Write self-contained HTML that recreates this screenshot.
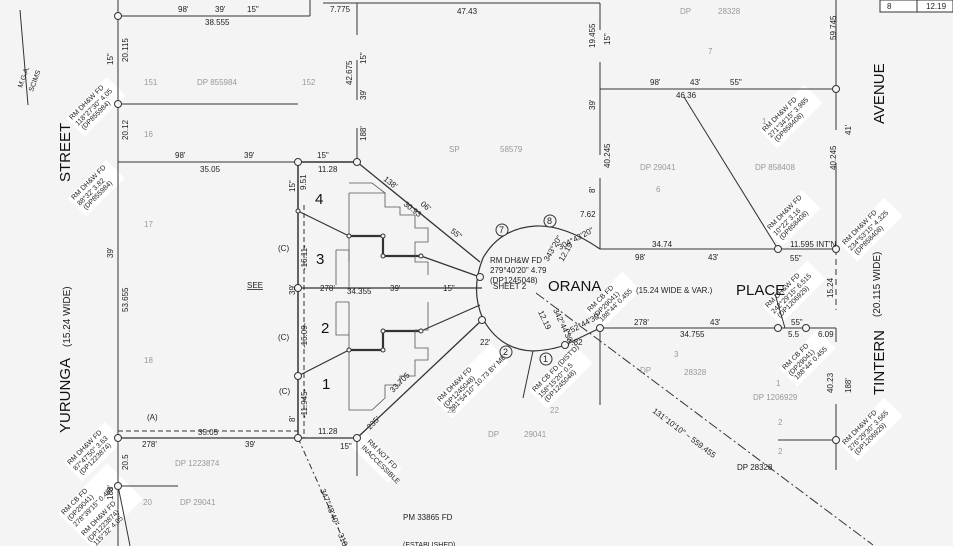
<!DOCTYPE html>
<html><head><meta charset="utf-8"><style>
html,body{margin:0;padding:0;background:#f4f4f4;}
svg{display:block;font-family:"Liberation Sans",sans-serif;}
.t{font-size:8px;fill:#222;}
.g{font-size:8px;fill:#999;}
</style></head><body>
<svg width="953" height="546" viewBox="0 0 953 546" xmlns="http://www.w3.org/2000/svg">
<rect width="953" height="546" fill="#f4f4f4"/>
<g fill="#fff">
<rect transform="translate(66,118) rotate(-45)" width="58" height="26"/>
<rect transform="translate(68,198) rotate(-45)" width="54" height="26"/>
<rect transform="translate(64,463) rotate(-45)" width="58" height="26"/>
<rect transform="translate(58,513) rotate(-45)" width="70" height="50"/>
<rect transform="translate(759,130) rotate(-45)" width="64" height="26"/>
<rect transform="translate(764,228) rotate(-45)" width="54" height="26"/>
<rect transform="translate(839,243) rotate(-45)" width="64" height="26"/>
<rect transform="translate(762,306) rotate(-45)" width="64" height="26"/>
<rect transform="translate(779,368) rotate(-45)" width="54" height="26"/>
<rect transform="translate(839,443) rotate(-45)" width="64" height="26"/>
<rect transform="translate(584,310) rotate(-45)" width="54" height="26"/>
<rect transform="translate(529,390) rotate(-45)" width="64" height="26"/>
<rect transform="translate(434,400) rotate(-45)" width="80" height="26"/>
<rect transform="translate(365,432) rotate(45)" width="52" height="20"/>
</g>
<g stroke="#333" stroke-width="1" fill="none">
<rect x="880" y="0" width="73" height="12" fill="#fff"/>
<line x1="917" y1="0" x2="917" y2="12"/>
<line x1="118" y1="0" x2="118" y2="546"/>
<line x1="118" y1="16" x2="310" y2="16"/>
<line x1="310" y1="16" x2="310" y2="0"/>
<line x1="323" y1="3" x2="600" y2="3"/>
<line x1="600" y1="3" x2="600" y2="30"/>
<line x1="357" y1="3" x2="357" y2="35"/><line x1="357" y1="60" x2="357" y2="100"/><line x1="357" y1="128" x2="357" y2="162"/>
<line x1="118" y1="104" x2="298" y2="104"/>
<line x1="118" y1="162" x2="357" y2="162"/>
<line x1="298" y1="162" x2="298" y2="438" stroke-width="1.5"/>
<line x1="298" y1="162" x2="357" y2="162" stroke-width="1.5"/>
<line x1="357" y1="162" x2="480" y2="262" stroke-width="1.3"/>
<path d="M600 249 Q565 225 536 226 Q500 228 483 258 Q470 290 483 319 Q500 350 533 351 Q552 350 565 345 L600 328" stroke-width="1.2"/>
<line x1="600" y1="249" x2="836" y2="249"/>
<line x1="600" y1="62" x2="600" y2="155"/><line x1="600" y1="178" x2="600" y2="249"/>
<line x1="600" y1="89" x2="836" y2="89"/>
<line x1="684" y1="97" x2="778" y2="249"/>
<line x1="836" y1="0" x2="836" y2="130"/><line x1="836" y1="163" x2="836" y2="249"/>
<line x1="836" y1="249" x2="836" y2="310" stroke-dasharray="6 4"/>
<line x1="836" y1="328" x2="836" y2="342"/>
<line x1="836" y1="404" x2="836" y2="470"/>
<line x1="600" y1="328" x2="836" y2="328"/>
<line x1="600" y1="328" x2="600" y2="405"/>
<line x1="778" y1="440" x2="836" y2="440"/>
<line x1="536" y1="293" x2="873" y2="545" stroke-dasharray="10 3 2 3"/>
<line x1="298" y1="288" x2="482" y2="288" stroke-width="1.3"/>
<line x1="118" y1="438" x2="357" y2="438" stroke-width="1.2"/>
<line x1="118" y1="431" x2="298" y2="431" stroke-dasharray="5 3"/>
<line x1="304" y1="205" x2="304" y2="438" stroke-dasharray="5 3"/>
<line x1="357" y1="438" x2="482" y2="320" stroke-width="1.3"/>
<line x1="357" y1="438" x2="357" y2="476"/>
<line x1="118" y1="486" x2="178" y2="486"/>
<line x1="298" y1="438" x2="346" y2="546" stroke-dasharray="6 3 2 3"/>
<line x1="298" y1="211" x2="349" y2="236" stroke-width="1.2"/>
<polyline points="349,236 383,236 383,256 421,256" stroke-width="2.2"/>
<line x1="421" y1="256" x2="480" y2="277" stroke-width="1.2"/>
<line x1="298" y1="376" x2="349" y2="350" stroke-width="1.2"/>
<polyline points="349,350 383,350 383,331 421,331" stroke-width="2.2"/>
<line x1="421" y1="331" x2="480" y2="305" stroke-width="1.2"/>
<path d="M349 193 L349 262 M349 183 L372 183 L385 193 L349 193 M385 193 L385 207 L400 207 L400 215 L415 215 L415 228 L428 228 L428 242 L415 242 L415 262 L428 262 L428 275" stroke="#555" stroke-width="0.8"/>
<path d="M349 302 L349 410 L372 410 L385 398 L385 385 L400 385 L400 376 L415 376 L415 360 L428 360 L428 348 L415 348 L415 330 L428 330 L428 302 M336 302 L349 302 M336 302 L336 335 L349 335 M336 250 L349 250 L349 290 M336 250 L336 285" stroke="#555" stroke-width="0.8"/>
<line x1="20" y1="10" x2="28" y2="105"/>
<line x1="775" y1="294" x2="785" y2="328"/>
<line x1="523" y1="398" x2="533" y2="351"/>
<path d="M118 486 Q125 520 130 546"/>
</g>
<g fill="#f4f4f4" stroke="#333" stroke-width="1">
<circle cx="118" cy="16" r="3.5"/><circle cx="118" cy="104" r="3.5"/><circle cx="298" cy="162" r="3.5"/><circle cx="357" cy="162" r="3.5"/>
<circle cx="836" cy="89" r="3.5"/><circle cx="778" cy="249" r="3.5"/><circle cx="836" cy="249" r="3.5"/>
<circle cx="600" cy="328" r="3.5"/><circle cx="778" cy="328" r="3.5"/><circle cx="806" cy="328" r="3.5"/><circle cx="836" cy="440" r="3.5"/>
<circle cx="298" cy="288" r="3.5"/><circle cx="298" cy="376" r="3.5"/><circle cx="118" cy="438" r="3.5"/><circle cx="298" cy="438" r="3.5"/><circle cx="357" cy="438" r="3.5"/><circle cx="118" cy="486" r="3.5"/>
<circle cx="482" cy="320" r="3.5"/><circle cx="565" cy="345" r="3.5"/><circle cx="480" cy="277" r="3.5"/>
<circle cx="298" cy="211" r="2"/><circle cx="349" cy="236" r="2"/><circle cx="383" cy="236" r="2"/><circle cx="383" cy="256" r="2"/><circle cx="421" cy="256" r="2"/>
<circle cx="349" cy="350" r="2"/><circle cx="383" cy="350" r="2"/><circle cx="383" cy="331" r="2"/><circle cx="421" cy="331" r="2"/>
<circle cx="502" cy="230" r="6"/><circle cx="550" cy="221" r="6"/><circle cx="506" cy="352" r="6"/><circle cx="546" cy="359" r="6"/>
</g>
<g class="t">
<text x="887" y="9">8</text><text x="926" y="9">12.19</text>
<text x="178" y="12">98'</text><text x="215" y="12">39'</text><text x="247" y="12">15"</text><text x="205" y="25">38.555</text>
<text x="330" y="12">7.775</text><text x="457" y="14">47.43</text>
<text x="175" y="158">98'</text><text x="244" y="158">39'</text><text x="317" y="158">15"</text><text x="200" y="172">35.05</text><text x="318" y="172">11.28</text>
<text x="347" y="294">34.355</text><text x="320" y="291">278'</text><text x="390" y="291">39'</text><text x="443" y="291">15"</text>
<text x="142" y="447">278'</text><text x="245" y="447">39'</text><text x="198" y="435">35.05</text><text x="318" y="434">11.28</text><text x="340" y="449">15"</text>
<text x="650" y="85">98'</text><text x="690" y="85">43'</text><text x="730" y="85">55"</text><text x="676" y="98">46.36</text>
<text x="652" y="247">34.74</text><text x="635" y="260">98'</text><text x="708" y="260">43'</text><text x="790" y="247">11.595 INT'N</text><text x="790" y="261">55"</text>
<text x="634" y="325">278'</text><text x="710" y="325">43'</text><text x="680" y="337">34.755</text><text x="791" y="325">55"</text><text x="788" y="337">5.5</text><text x="818" y="337">6.09</text>
<text x="580" y="217">7.62</text><text x="567" y="345">7.82</text>
<text x="480" y="345">22'</text>
<text x="147" y="420">(A)</text><text x="278" y="251">(C)</text><text x="278" y="340">(C)</text><text x="279" y="394">(C)</text>
<text x="493" y="289">SHEET 2</text><text x="247" y="288" text-decoration="underline">SEE</text>
<text x="737" y="470">DP 28328</text>
<text x="403" y="520">PM 33865 FD</text>
<text x="403" y="547" font-size="7">(ESTABLISHED)</text>
</g>
<g class="g">
<text x="144" y="85">151</text><text x="197" y="85">DP 855984</text><text x="302" y="85">152</text>
<text x="144" y="137">16</text><text x="144" y="227">17</text><text x="144" y="363">18</text>
<text x="449" y="152">SP</text><text x="500" y="152">58579</text>
<text x="680" y="14">DP</text><text x="718" y="14">28328</text><text x="708" y="54">7</text><text x="762" y="124">1</text>
<text x="640" y="170">DP 29041</text><text x="755" y="170">DP 858408</text><text x="656" y="192">6</text>
<text x="674" y="357">3</text><text x="640" y="373">DP</text><text x="684" y="375">28328</text>
<text x="753" y="400">DP 1206929</text><text x="776" y="386">1</text><text x="778" y="425">2</text><text x="778" y="454">2</text>
<text x="488" y="437">DP</text><text x="524" y="437">29041</text><text x="550" y="413">22</text><text x="447" y="413">23</text>
<text x="175" y="466">DP 1223874</text><text x="180" y="505">DP 29041</text><text x="143" y="505">20</text>
</g>
<g font-size="15" fill="#111">
<text x="315" y="204">4</text><text x="316" y="264">3</text><text x="321" y="333">2</text><text x="322" y="389">1</text>
<text x="548" y="291">ORANA</text><text x="736" y="295">PLACE</text>
</g>
<text x="636" y="293" class="t" font-size="10">(15.24 WIDE &amp; VAR.)</text>
<g font-size="15" fill="#111">
<text transform="translate(70,182) rotate(-90)">STREET</text>
<text transform="translate(70,433) rotate(-90)">YURUNGA</text>
<text transform="translate(884,124) rotate(-90)">AVENUE</text>
<text transform="translate(884,395) rotate(-90)">TINTERN</text>
</g>
<g font-size="10" fill="#222">
<text transform="translate(70,347) rotate(-90)">(15.24 WIDE)</text>
<text transform="translate(880,317) rotate(-90)">(20.115 WIDE)</text>
</g>
<g font-size="9" fill="#222">
<text x="499" y="233">7</text><text x="547" y="224">8</text><text x="503" y="355">2</text><text x="543" y="362">1</text>
</g>
<g class="t">
<text transform="translate(128,62) rotate(-90)">20.115</text><text transform="translate(113,65) rotate(-90)">15"</text>
<text transform="translate(128,140) rotate(-90)">20.12</text><text transform="translate(113,258) rotate(-90)">39'</text>
<text transform="translate(128,312) rotate(-90)">53.655</text><text transform="translate(128,470) rotate(-90)">20.5</text><text transform="translate(113,500) rotate(-90)">188'</text>
<text transform="translate(352,85) rotate(-90)">42.675</text><text transform="translate(366,64) rotate(-90)">15"</text><text transform="translate(366,100) rotate(-90)">39'</text><text transform="translate(366,141) rotate(-90)">188'</text>
<text transform="translate(595,48) rotate(-90)">19.455</text><text transform="translate(610,45) rotate(-90)">15"</text><text transform="translate(595,110) rotate(-90)">39'</text>
<text transform="translate(610,168) rotate(-90)">40.245</text><text transform="translate(595,193) rotate(-90)">8'</text>
<text transform="translate(836,40) rotate(-90)">59.745</text><text transform="translate(851,135) rotate(-90)">41'</text><text transform="translate(836,170) rotate(-90)">40.245</text>
<text transform="translate(833,298) rotate(-90)">15.24</text><text transform="translate(833,393) rotate(-90)">40.23</text><text transform="translate(851,393) rotate(-90)">188'</text>
<text transform="translate(306,190) rotate(-90)">9.51</text><text transform="translate(295,192) rotate(-90)">15"</text>
<text transform="translate(307,270) rotate(-90)">-16.11-</text><text transform="translate(295,295) rotate(-90)">39'</text>
<text transform="translate(307,348) rotate(-90)">-16.09-</text><text transform="translate(307,418) rotate(-90)">-11.945-</text><text transform="translate(295,422) rotate(-90)">8'</text>
<text transform="translate(383,180) rotate(38)">138'</text><text transform="translate(420,205) rotate(38)">06'</text><text transform="translate(450,232) rotate(38)">55"</text>
<text transform="translate(403,205) rotate(38)">30.93</text>
<text transform="translate(393,393) rotate(-45)">33.705</text><text transform="translate(370,430) rotate(-45)">235'</text>
<text transform="translate(652,412) rotate(37)">131°10'10" ~ 559.455</text>
<text transform="translate(320,490) rotate(68)">347°48'40" ~ 310.74</text>
<text transform="translate(548,262) rotate(-60)">343°20"</text><text transform="translate(563,262) rotate(-60)">12.19</text>
<text transform="translate(560,250) rotate(-28)">304°43'20"</text>
<text transform="translate(568,335) rotate(-28)">252°44'30"</text>
<text transform="translate(553,310) rotate(65)">342°44'30"</text><text transform="translate(538,312) rotate(65)">12.19</text>
<text x="490" y="263">RM DH&amp;W FD</text><text x="490" y="273">279°40'20" 4.79</text><text x="490" y="283">(DP1245048)</text>
</g>
<g font-size="7" fill="#222">
<text transform="translate(72,120) rotate(-45)">RM DH&amp;W FD</text><text transform="translate(78,126) rotate(-45)">118°27'30" 4.05</text><text transform="translate(84,130) rotate(-45)">(DP855984)</text>
<text transform="translate(74,200) rotate(-45)">RM DH&amp;W FD</text><text transform="translate(80,206) rotate(-45)">88°32' 3.82</text><text transform="translate(86,210) rotate(-45)">(DP855984)</text>
<text transform="translate(70,465) rotate(-45)">RM DH&amp;W FD</text><text transform="translate(76,471) rotate(-45)">87°47'50" 3.63</text><text transform="translate(82,475) rotate(-45)">(DP1223874)</text>
<text transform="translate(64,515) rotate(-45)">RM CB FD</text><text transform="translate(70,521) rotate(-45)">(DP29041)</text><text transform="translate(76,527) rotate(-45)">278°39'15" 0.455</text>
<text transform="translate(84,536) rotate(-45)">RM DH&amp;W FD</text><text transform="translate(90,542) rotate(-45)">(DP1223874)</text><text transform="translate(96,546) rotate(-45)">115°32' 4.05</text>
<text transform="translate(765,132) rotate(-45)">RM DH&amp;W FD</text><text transform="translate(771,138) rotate(-45)">271°34'15" 3.985</text><text transform="translate(777,142) rotate(-45)">(DP858408)</text>
<text transform="translate(770,230) rotate(-45)">RM DH&amp;W FD</text><text transform="translate(776,236) rotate(-45)">10°22' 3.16</text><text transform="translate(782,240) rotate(-45)">(DP858408)</text>
<text transform="translate(845,245) rotate(-45)">RM DH&amp;W FD</text><text transform="translate(851,251) rotate(-45)">234°53'15" 4.325</text><text transform="translate(857,255) rotate(-45)">(DP858408)</text>
<text transform="translate(768,308) rotate(-45)">RM DH&amp;W FD</text><text transform="translate(774,314) rotate(-45)">242°29'15" 6.515</text><text transform="translate(780,318) rotate(-45)">(DP1206929)</text>
<text transform="translate(785,370) rotate(-45)">RM CB FD</text><text transform="translate(791,376) rotate(-45)">(DP29041)</text><text transform="translate(797,380) rotate(-45)">188°44' 0.455</text>
<text transform="translate(845,445) rotate(-45)">RM DH&amp;W FD</text><text transform="translate(851,451) rotate(-45)">276°29'30" 3.565</text><text transform="translate(857,455) rotate(-45)">(DP1206929)</text>
<text transform="translate(590,312) rotate(-45)">RM CB FD</text><text transform="translate(596,318) rotate(-45)">(DP29041)</text><text transform="translate(602,322) rotate(-45)">188°44' 0.455</text>
<text transform="translate(535,392) rotate(-45)">RM CB FD (DIST'D)</text><text transform="translate(541,398) rotate(-45)">158°15'20" 0.5</text><text transform="translate(547,402) rotate(-45)">(DP1245048)</text>
<text transform="translate(440,402) rotate(-45)">RM DH&amp;W FD</text><text transform="translate(446,408) rotate(-45)">(DP1245048)</text><text transform="translate(452,412) rotate(-45)">281°54'10" 10.73 BY ME</text>
<text transform="translate(367,442) rotate(45)">RM NOT FD</text><text transform="translate(361,448) rotate(45)">INACCESSIBLE</text>
<text transform="translate(22,88) rotate(-70)">M.G.A.</text><text transform="translate(33,92) rotate(-70)">SCIMS</text>
</g>
</svg>
</body></html>
